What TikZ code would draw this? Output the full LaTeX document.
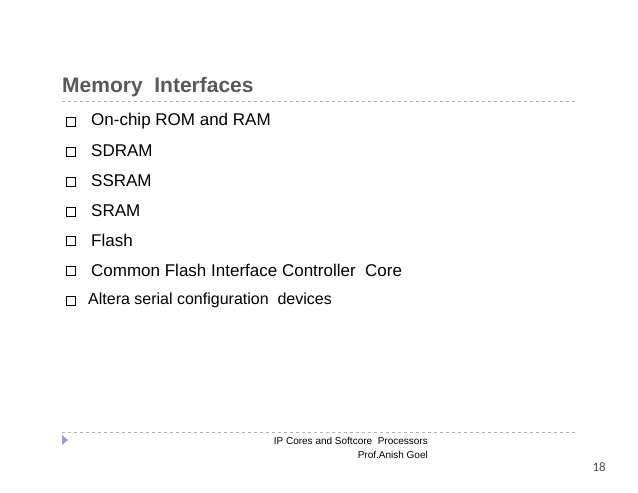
\documentclass[tikz,border=0pt]{standalone}
\usepackage{fontspec}
\setmainfont{Liberation Sans}
\newfontfamily\calfont{Carlito}
\begin{document}
\begin{tikzpicture}[x=1pt,y=-1pt,
  item/.style={anchor=west,font=\fontsize{17}{19}\selectfont,text=black,inner sep=0},
  box/.style={anchor=west,draw=black,line width=0.6pt,minimum size=9pt,inner sep=0},
  rule/.style={gray!60,dashed,line width=0.6pt}]
\useasboundingbox (0,0) rectangle (638,493);
\node[anchor=base west,inner sep=0,font=\fontsize{21}{24}\selectfont\bfseries,text=black!65] (title) at (62,92) {Memory\ \ Interfaces};
\coordinate (l1) at (62,101); \coordinate (l2) at (578,101);
\draw[rule] (l1) -- (l2);
\foreach \t [count=\i] in {On-chip ROM and RAM,SDRAM,SSRAM,SRAM,Flash,Common Flash Interface Controller\ \ Core} {
  \node[box] (b\i) at (66,{122+29.8*(\i-1)}) {};
  \node[item] (t\i) at (91,{121+29.8*(\i-1)}) {\t};
}
\node[box] (b7) at (66,301) {};
\node[item,font=\fontsize{16}{19}\selectfont] (t7) at (88,300) {Altera serial configuration\ \ devices};
\coordinate (f1) at (62,432); \coordinate (f2) at (578,432);
\draw[rule] (f1) -- (f2);
\fill[gray!70!blue!60] (62,435) -- (68,440) -- (62,445) -- cycle;
\node[anchor=base east,inner sep=0,font=\fontsize{10}{12}\selectfont] (ft1) at (428,444) {IP Cores and Softcore\ \ Processors};
\node[anchor=base east,inner sep=0,font=\fontsize{10}{12}\selectfont] (ft2) at (428,458) {Prof.Anish Goel};
\node[anchor=base east,inner sep=0,font=\calfont\fontsize{13}{15}\selectfont,text=black!70] (pg) at (606,471) {18};
\end{tikzpicture}
\end{document}
